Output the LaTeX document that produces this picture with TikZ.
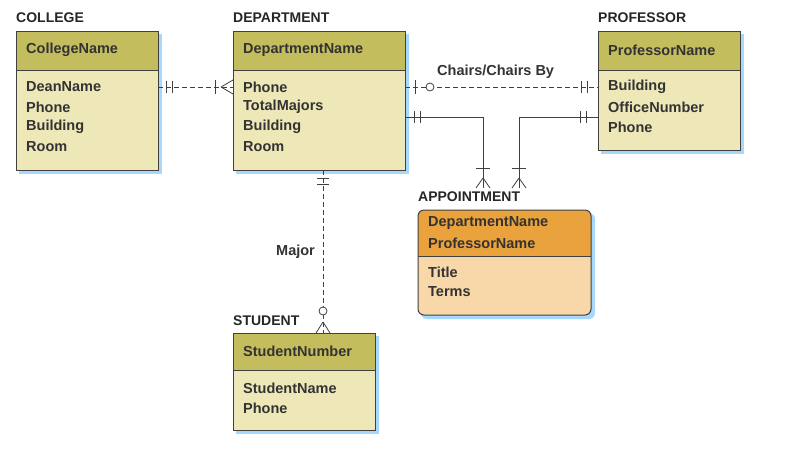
\documentclass[tikz,border=0pt]{standalone}
\usepackage{fontspec}
\setmainfont{Liberation Sans}
\begin{document}
\begin{tikzpicture}[x=1pt,y=-1pt,
  txt/.style={anchor=west,inner sep=0pt,font=\fontsize{14.5}{18}\selectfont\bfseries,text=black!80},
  ttl/.style={anchor=west,inner sep=0pt,font=\fontsize{14}{16}\selectfont\bfseries,text=black!85},
  box/.style={draw=black!75,line width=1pt},
  shd/.style={fill=blue!45!cyan!50,opacity=0.7},
  rel/.style={draw=black!75,line width=0.8pt},
  dsh/.style={rel,dash pattern=on 5pt off 3pt}]
\definecolor{hdr}{HTML}{C4BD5E}\definecolor{bdy}{HTML}{EEE8B8}
\definecolor{ahdr}{HTML}{EAA23C}\definecolor{abdy}{HTML}{F8D8A8}
\useasboundingbox (0,0) rectangle (811,451);
% shadows
\fill[shd] (19,34) rectangle (162,174);
\fill[shd] (236,34) rectangle (409,174);
\fill[shd] (601,34) rectangle (744,154);
\fill[shd,rounded corners=6pt] (421,213) rectangle (595,319);
\fill[shd] (236,336) rectangle (379,434);
% COLLEGE
\fill[bdy] (16,31) rectangle (158,170); \fill[hdr] (16,31) rectangle (158,70);
\draw[box] (16,70) -- (158,70); \draw[box] (16,31) rectangle (158,170);
\node (college) at (87,100) {};
\node[ttl] (tcol) at (16,18) {COLLEGE};
\node[txt] at (26,50) {CollegeName};
\node[txt] at (26,87) {DeanName};
\node[txt] at (26,107) {Phone};
\node[txt] at (26,127) {Building};
\node[txt] at (26,147) {Room};
% DEPARTMENT
\fill[bdy] (233,31) rectangle (405,170); \fill[hdr] (233,31) rectangle (405,70);
\draw[box] (233,70) -- (405,70); \draw[box] (233,31) rectangle (405,170);
\node (dept) at (319,100) {};
\node[ttl] (tdep) at (233,18) {DEPARTMENT};
\node[txt] at (243,50) {DepartmentName};
\node[txt] at (243,87) {Phone};
\node[txt] at (243,107) {TotalMajors};
\node[txt] at (243,127) {Building};
\node[txt] at (243,147) {Room};
% PROFESSOR
\fill[bdy] (598,31) rectangle (740,150); \fill[hdr] (598,31) rectangle (740,70);
\draw[box] (598,70) -- (740,70); \draw[box] (598,31) rectangle (740,150);
\node (prof) at (669,90) {};
\node[ttl] (tpro) at (598,18) {PROFESSOR};
\node[txt] at (608,50) {ProfessorName};
\node[txt] at (608,87) {Building};
\node[txt] at (608,107) {OfficeNumber};
\node[txt] at (608,127) {Phone};
% APPOINTMENT
\fill[abdy,rounded corners=6pt] (418,210) rectangle (591,315);
\fill[ahdr,rounded corners=6pt] (418,210) rectangle (591,240); \fill[ahdr] (418,230) rectangle (591,256);
\draw[box] (418,256) -- (591,256); \draw[box,rounded corners=6pt] (418,210) rectangle (591,315);
\node (appt) at (504,262) {};
\node[ttl] (tapp) at (418,197) {APPOINTMENT};
\node[txt] at (428,223) {DepartmentName};
\node[txt] at (428,243) {ProfessorName};
\node[txt] at (428,272) {Title};
\node[txt] at (428,292) {Terms};
% STUDENT
\fill[bdy] (233,333) rectangle (375,430); \fill[hdr] (233,333) rectangle (375,370);
\draw[box] (233,370) -- (375,370); \draw[box] (233,333) rectangle (375,430);
\node (stud) at (304,380) {};
\node[ttl] (tstu) at (233,321) {STUDENT};
\node[txt] at (243,351) {StudentNumber};
\node[txt] at (243,388) {StudentName};
\node[txt] at (243,408) {Phone};
% coordinates
\coordinate (c1) at (158,87); \coordinate (d1) at (233,87);
\coordinate (d2) at (405,87); \coordinate (p2) at (598,87);
\coordinate (d3) at (405,117); \coordinate (a3) at (483,188);
\coordinate (p4) at (598,117); \coordinate (a4) at (519,188);
\coordinate (d5) at (323,170); \coordinate (s5) at (323,333);
% College - Department
\draw[dsh] (c1) -- (d1);
\draw[rel] (166,81) -- (166,93) (172,81) -- (172,93) (215,80) -- (215,94);
\draw[rel] (221,87) -- (233,80) (221,87) -- (233,94);
% Department - Professor
\draw[dsh] (d2) -- (p2);
\draw[rel] (415,80) -- (415,94); \draw[rel,fill=white] (430,87) circle (4);
\draw[rel] (581,81) -- (581,93) (587,81) -- (587,93);
\node[txt,font=\fontsize{14.5}{18}\selectfont\bfseries] (lchairs) at (437,72) {Chairs/Chairs By};
% Department - Appointment
\draw[rel] (d3) -| (a3);
\draw[rel] (414,111) -- (414,123) (420,111) -- (420,123);
\draw[rel] (476,168) -- (490,168);
\draw[rel] (483,178) -- (476,188) (483,178) -- (490,188);
% Professor - Appointment
\draw[rel] (p4) -| (a4);
\draw[rel] (580,111) -- (580,123) (586,111) -- (586,123);
\draw[rel] (512,168) -- (526,168);
\draw[rel] (519,178) -- (512,188) (519,178) -- (526,188);
% Department - Student
\draw[dsh] (d5) -- (s5);
\draw[rel] (317,178) -- (329,178) (317,184) -- (329,184);
\draw[rel,fill=white] (323,311) circle (4);
\draw[rel] (323,322) -- (316,333) (323,322) -- (330,333);
\node[txt] (lmajor) at (276,252) {Major};
\end{tikzpicture}
\end{document}
